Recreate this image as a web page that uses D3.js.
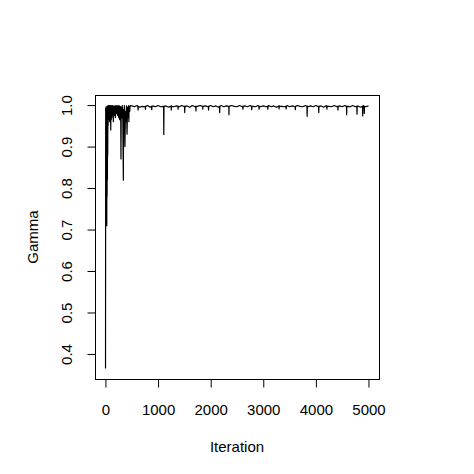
<!DOCTYPE html>
<html>
<head>
<meta charset="utf-8">
<style>
  body { margin: 0; background: #fff; }
  .tick-label { font-family: "Liberation Sans", Arial, sans-serif; font-size: 15px; fill: #000; }
  .trace { fill: none; stroke: #000; stroke-width: 1.2px; stroke-linejoin: round; }
</style>
</head>
<body>
<svg id="chart"></svg>
<script src="https://cdn.jsdelivr.net/npm/d3@7"></script>
<script>
// burn-in part of the chain
var earlyIter = [1,4,7,10,13,16,19,22,25,28,
  31,34,37,40,43,46,50,55,60,65,
  70,75,80,85,90,95,100,105,110,115,
  120,125,130,140,150,160,170,180,190,200,
  210,220,230,240,250,260,270,280,290,295,
  300,310,320,330,340,345,350,360,370,380,
  390,400,410,420,430,440,445,450,460,470];
var earlyGamma = [0.365,0.992,0.706,0.995,0.72,0.99,0.74,0.996,0.71,0.985,
  0.78,0.997,0.82,0.99,0.88,0.998,0.95,0.999,0.965,0.997,
  0.97,0.999,0.96,0.998,0.975,0.999,0.94,0.997,0.965,0.999,
  0.97,0.998,0.975,0.999,0.96,0.997,0.975,0.999,0.97,0.998,
  0.98,0.999,0.975,0.998,0.97,0.999,0.965,0.997,0.975,0.87,
  0.995,0.97,0.999,0.965,0.819,0.99,0.96,0.999,0.90,0.985,
  0.96,0.998,0.93,0.995,0.97,0.999,0.96,0.997,0.985,0.999];

// rest of the chain, sampled every 50 iterations from 500 to 5000
var baseGamma = [
  0.998,0.996,0.999,0.995,0.997,0.996,0.999,0.995,0.998,0.996,
  0.999,0.996,0.997,0.998,0.995,0.999,0.996,0.998,0.996,0.999,
  0.996,0.998,0.995,0.999,0.996,0.997,0.999,0.996,0.998,0.996,
  0.999,0.996,0.998,0.995,0.999,0.996,0.998,0.996,0.999,0.997,
  0.996,0.999,0.996,0.998,0.996,0.999,0.997,0.996,0.999,0.996,
  0.998,0.996,0.999,0.996,0.998,0.995,0.999,0.997,0.996,0.999,
  0.996,0.998,0.996,0.999,0.997,0.996,0.999,0.996,0.998,0.996,
  0.999,0.996,0.998,0.995,0.999,0.997,0.996,0.999,0.996,0.998,
  0.996,0.999,0.997,0.996,0.999,0.996,0.998,0.995,0.999,0.996,
  0.998];

// narrow downward spikes after burn-in (shoulder, tip, shoulder)
var spikeIter = [
  616,620,624, 756,760,764, 876,880,884, 1105,1109,1113, 1246,1250,1254,
  1376,1380,1384, 1503,1507,1511, 1716,1720,1724, 1846,1850,1854, 1956,1960,1964,
  2167,2171,2175, 2344,2348,2352, 2609,2613,2617, 2776,2780,2784, 2916,2920,2924,
  3083,3087,3091, 3296,3300,3304, 3431,3435,3439, 3606,3610,3614, 3830,3834,3838,
  4051,4055,4059, 4206,4210,4214, 4416,4420,4424, 4581,4585,4589, 4778,4782,4786,
  4886,4890,4894, 4916,4920,4924];
var spikeGamma = [
  0.997,0.988,0.997, 0.997,0.99,0.997, 0.997,0.989,0.997, 0.997,0.929,0.997, 0.997,0.988,0.997,
  0.997,0.99,0.997, 0.997,0.982,0.997, 0.997,0.986,0.997, 0.997,0.99,0.997, 0.997,0.988,0.997,
  0.997,0.982,0.997, 0.997,0.977,0.997, 0.997,0.99,0.997, 0.997,0.989,0.997, 0.997,0.99,0.997,
  0.997,0.99,0.997, 0.997,0.991,0.997, 0.997,0.991,0.997, 0.997,0.989,0.997, 0.997,0.973,0.997,
  0.997,0.982,0.997, 0.997,0.99,0.997, 0.997,0.988,0.997, 0.997,0.977,0.997, 0.997,0.978,0.997,
  0.997,0.974,0.997, 0.997,0.98,0.997];

var xTicks = [0, 1000, 2000, 3000, 4000, 5000];
var yTicks = [0.4, 0.5, 0.6, 0.7, 0.8, 0.9, 1.0];

var width = 474, height = 474;
var plotL = 95, plotR = 379, plotT = 95, plotB = 379;

var data = [];
earlyIter.forEach(function(it, i){ data.push({x: it, y: earlyGamma[i]}); });
baseGamma.forEach(function(g, i){ data.push({x: 500 + i * 50, y: g}); });
spikeIter.forEach(function(it, i){ data.push({x: it, y: spikeGamma[i]}); });
data.sort(function(a, b){ return a.x - b.x; });

// R style 4% padding on both axes
var xr = d3.extent(data, function(d){ return d.x; });
var yr = d3.extent(data, function(d){ return d.y; });
var xp = (xr[1] - xr[0]) * 0.04, yp = (yr[1] - yr[0]) * 0.04;
var x = d3.scaleLinear().domain([xr[0] - xp, xr[1] + xp]).range([plotL, plotR]);
var y = d3.scaleLinear().domain([yr[0] - yp, yr[1] + yp]).range([plotB, plotT]);

var svg = d3.select('#chart').attr('width', width).attr('height', height);

var line = d3.line()
  .x(function(d){ return x(d.x); })
  .y(function(d){ return y(d.y); });

svg.append('path').datum(data).attr('class', 'trace').attr('d', line);

// box
svg.append('rect')
  .attr('x', plotL + 0.5).attr('y', plotT + 0.5)
  .attr('width', plotR - plotL).attr('height', plotB - plotT)
  .attr('fill', 'none').attr('stroke', '#000').attr('stroke-width', 1);

// x axis
var xAxis = d3.axisBottom(x).tickValues(xTicks).tickSize(8).tickPadding(5)
  .tickFormat(d3.format('d'));
var gx = svg.append('g').attr('transform', 'translate(0,' + (plotB + 0.5) + ')').call(xAxis);
gx.select('.domain').remove();
gx.selectAll('text').attr('class', 'tick-label').attr('font-size', null).attr('font-family', null)
  .attr('dy', null).attr('y', 35);

// y axis
var yAxis = d3.axisLeft(y).tickValues(yTicks).tickSize(8)
  .tickFormat(d3.format('.1f'));
var gy = svg.append('g').attr('transform', 'translate(' + (plotL + 0.5) + ',0)').call(yAxis);
gy.select('.domain').remove();
gy.selectAll('text').attr('class', 'tick-label').attr('font-size', null).attr('font-family', null)
  .attr('x', null).attr('dy', null)
  .attr('transform', 'translate(-24,0) rotate(-90)')
  .attr('text-anchor', 'middle');

// axis titles
svg.append('text').attr('class', 'tick-label')
  .attr('x', (plotL + plotR) / 2).attr('y', 452)
  .attr('text-anchor', 'middle').text('Iteration');
svg.append('text').attr('class', 'tick-label')
  .attr('transform', 'translate(38,' + ((plotT + plotB) / 2) + ') rotate(-90)')
  .attr('text-anchor', 'middle').text('Gamma');
</script>
</body>
</html>
